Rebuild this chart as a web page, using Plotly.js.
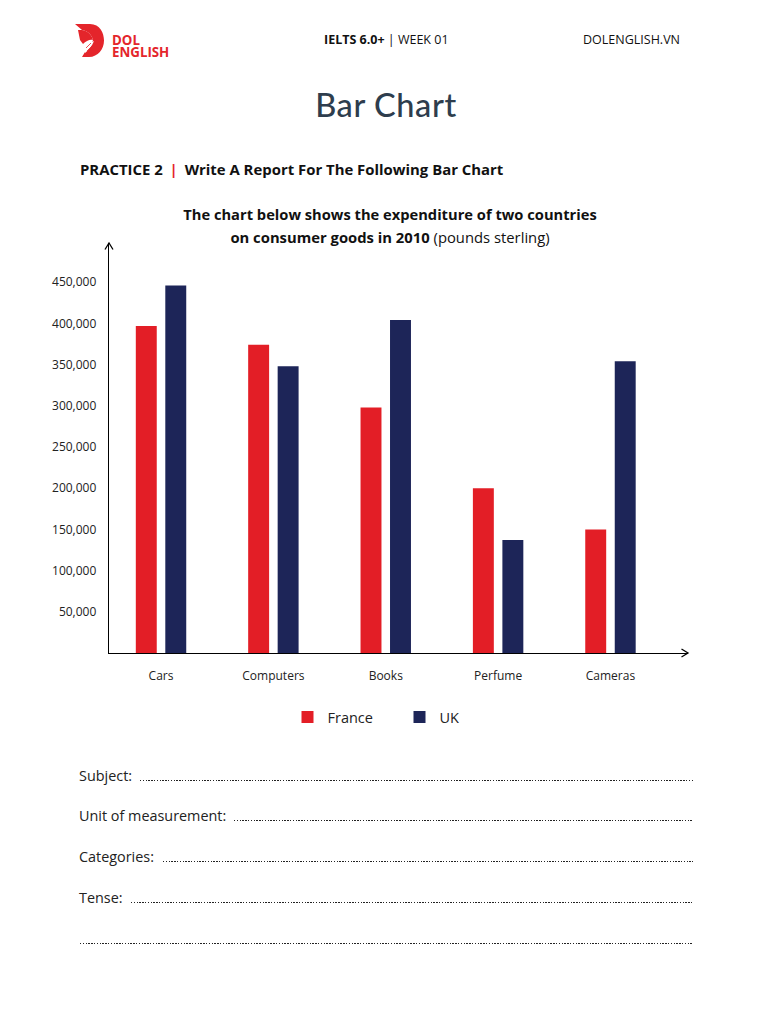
<!DOCTYPE html>
<html>
<head>
<meta charset="utf-8">
<script src="https://cdn.plot.ly/plotly-3.0.1.min.js"></script>
<style>
  html, body { margin: 0; padding: 0; background: #fff; }
  body { width: 768px; height: 1024px; position: relative; overflow: hidden; font-family: "Open Sans", "Noto Sans", sans-serif; color: #1a1a1a; }
  #chart { position: absolute; left: 0; top: 0; width: 768px; height: 1024px; }
  .t { position: absolute; white-space: nowrap; line-height: 1; }
  .field { position: absolute; left: 79px; font-size: 14.4px; color: #222; white-space: nowrap; line-height: 1; }
  .dots { position: absolute; height: 1.4px; background: repeating-linear-gradient(to right, #222 0 1.4px, transparent 1.4px 2.8px); }
</style>
</head>
<body>
<div id="chart"></div>

<!-- logo -->
<svg style="position:absolute;left:70px;top:20px" width="110" height="42" viewBox="70 20 110 42">
  <path d="M75,24 L90,24 C100,24 104,33 104,40.5 C104,49 98,57 89,57 L82,57 L85,52 C89,48 92,44 93,40 C92,35 88,31 82,30 Z" fill="#e4252b"/>
  <path d="M82,30 C88,31 92,35 93,40 C90,39 86,41 83,44 L80,40 L78,30 Z" fill="#e4252b"/>
  <path d="M84,50 C87,45 90,42 94,41 C92,46 89,50 85,53 Z" fill="#fff"/>
  <path d="M86,48 L91,43 M87,51 L92,46" stroke="#e4252b" stroke-width="0.8" fill="none"/>
  <text font-family="Open Sans" font-weight="700" font-size="13.3" fill="#e4252b"><tspan x="112" y="44.5">DOL</tspan><tspan x="112" y="57">ENGLISH</tspan></text>
</svg>

<div class="t" style="left:324px;top:34px;font-size:12.5px;color:#111"><b>IELTS 6.0+</b> | WEEK 01</div>
<div class="t" style="left:583px;top:34px;font-size:12.5px;color:#111">DOLENGLISH.VN</div>

<div class="t" style="left:0;width:772px;text-align:center;top:89px;font-size:32.5px;color:#2e3d4d;font-family:Lato, 'Open Sans', sans-serif;font-weight:500;letter-spacing:0.6px">Bar Chart</div>

<div class="t" style="left:80px;top:162px;font-size:14.9px;font-weight:700;color:#111">PRACTICE 2 <span style="color:#e4252b;font-weight:700;padding:0 3px">|</span> Write A Report For The Following Bar Chart</div>

<div class="t" style="left:0;width:780px;text-align:center;top:207px;font-size:14.7px;font-weight:700;color:#111">The chart below shows the expenditure of two countries</div>
<div class="t" style="left:0;width:780px;text-align:center;top:230px;font-size:14.8px;color:#111"><b>on consumer goods in 2010</b> (pounds sterling)</div>

<div class="field" style="top:769px">Subject:</div>
<div class="dots" style="left:140px;width:553px;top:780px"></div>
<div class="field" style="top:809px">Unit of measurement:</div>
<div class="dots" style="left:234px;width:459px;top:820px"></div>
<div class="field" style="top:850px">Categories:</div>
<div class="dots" style="left:163px;width:530px;top:861px"></div>
<div class="field" style="top:891px">Tense:</div>
<div class="dots" style="left:131px;width:562px;top:902px"></div>
<div class="dots" style="left:80px;width:613px;top:943px"></div>

<script>
const categories = ["Cars", "Computers", "Books", "Perfume", "Cameras"];
const franceValues = [397000, 374000, 298000, 200000, 150000];
const ukValues = [446000, 348000, 404000, 137000, 354000];
const yTickValues = [50000, 100000, 150000, 200000, 250000, 300000, 350000, 400000, 450000];
const seriesNames = ["France", "UK"];

const W = 768, H = 1024;
const L = 109, R = 688, T = 243, B = 653;
const px = x => (x - L) / (R - L);
const py = y => (B - y) / (B - T);

const traces = [
  { type: "bar", name: seriesNames[0], x: categories, y: franceValues,
    marker: { color: "#e31e26", line: { width: 0 } }, hoverinfo: "x+y+name" },
  { type: "bar", name: seriesNames[1], x: categories, y: ukValues,
    marker: { color: "#1d2558", line: { width: 0 } }, hoverinfo: "x+y+name" }
];

function chevron(tipX, tipY, a1x, a1y, a2x, a2y) {
  return {
    type: "path", xref: "paper", yref: "paper",
    path: `M${px(a1x)},${py(a1y)} L${px(tipX)},${py(tipY)} L${px(a2x)},${py(a2y)}`,
    line: { color: "#000", width: 1.3 }
  };
}

const layout = {
  width: W, height: H,
  margin: { l: L, r: W - R, t: T, b: H - B, pad: 0 },
  paper_bgcolor: "rgba(0,0,0,0)",
  plot_bgcolor: "rgba(0,0,0,0)",
  font: { family: "Open Sans, Noto Sans, sans-serif", color: "#222" },
  barmode: "group",
  bargap: 0.475,
  bargroupgap: 0.29,
  showlegend: true,
  legend: {
    orientation: "h", x: px(287.5), xanchor: "left", y: py(717), yanchor: "middle",
    font: { size: 14.5, color: "#222" }, entrywidth: 67, entrywidthmode: "pixels",
    bgcolor: "rgba(0,0,0,0)"
  },
  xaxis: {
    type: "category", range: [-0.463, 4.69], showline: true, linecolor: "#000", linewidth: 1.3,
    ticks: "", showgrid: false, zeroline: false, fixedrange: true,
    tickfont: { size: 12, color: "#222" }, ticklabelstandoff: 11
  },
  yaxis: {
    range: [0, 497600], showline: true, linecolor: "#000", linewidth: 1.3,
    ticks: "", showgrid: false, zeroline: false, fixedrange: true,
    tickvals: yTickValues, tickformat: ",d",
    tickfont: { size: 12, color: "#222" }, ticklabelstandoff: 9
  },
  shapes: [
    chevron(109, 243, 105, 249.5, 113, 249.5),
    chevron(688, 653, 681.5, 649, 681.5, 657)
  ]
};

Plotly.newPlot("chart", traces, layout, { displayModeBar: false, staticPlot: true });
</script>
</body>
</html>
